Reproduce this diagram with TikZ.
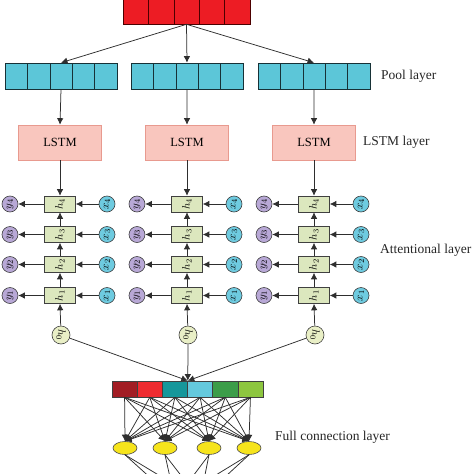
\documentclass[tikz,border=0pt]{standalone}
\usepackage{fontspec}
\usepackage{graphicx}
\setmainfont{Liberation Serif}
\usetikzlibrary{arrows.meta,shapes.geometric}
\definecolor{topred}{HTML}{ED1C24}
\definecolor{poolc}{HTML}{5CC6D8}
\definecolor{lstmf}{HTML}{F9C6BE}
\definecolor{lstmd}{HTML}{E89A8F}
\definecolor{hboxf}{HTML}{DCE7BE}
\definecolor{ycirc}{HTML}{B8A8D6}
\definecolor{xcirc}{HTML}{6ECBE0}
\definecolor{hzero}{HTML}{E9EFC6}
\definecolor{ellf}{HTML}{F6E41C}
\definecolor{lnc}{HTML}{2E2E2E}
\definecolor{bc1}{HTML}{A21D24}
\definecolor{bc2}{HTML}{EE2B30}
\definecolor{bc3}{HTML}{16979B}
\definecolor{bc4}{HTML}{64C9DD}
\definecolor{bc5}{HTML}{3C9D49}
\definecolor{bc6}{HTML}{8DC63F}
\begin{document}
\begin{tikzpicture}[x=1pt,y=-1pt,
  arr/.style={draw=lnc,line width=0.75pt,-{Latex[length=6.5pt,width=6.5pt]}},
  plain/.style={draw=lnc,line width=0.75pt},
  redcell/.style={draw=black!70!red,line width=0.6pt,fill=topred,minimum width=25.4pt,minimum height=32pt,inner sep=0pt},
  poolcell/.style={draw=black!75!poolc,line width=0.6pt,fill=poolc,minimum width=22.4pt,minimum height=26pt,inner sep=0pt},
  lstmbox/.style={draw=lstmd,line width=0.6pt,fill=lstmf,minimum width=83pt,minimum height=35pt,inner sep=0pt,font=\fontsize{12.5}{14}\selectfont},
  hbox/.style={draw=black!75,line width=0.6pt,fill=hboxf,minimum width=31pt,minimum height=16pt,inner sep=0pt,font=\fontsize{11}{12}\selectfont},
  ynode/.style={circle,draw=black!75,line width=0.6pt,fill=ycirc,minimum size=16pt,inner sep=0pt,font=\fontsize{11}{12}\selectfont},
  xnode/.style={circle,draw=black!75,line width=0.6pt,fill=xcirc,minimum size=16pt,inner sep=0pt,font=\fontsize{11}{12}\selectfont},
  h0node/.style={circle,draw=black!75,line width=0.6pt,fill=hzero,minimum size=18pt,inner sep=0pt,font=\fontsize{11}{12}\selectfont},
  bcell/.style={draw=black!75,line width=0.6pt,minimum width=25.17pt,minimum height=16pt,inner sep=0pt},
  ell/.style={ellipse,draw=black!70,line width=0.6pt,fill=ellf,minimum width=24pt,minimum height=13pt,inner sep=0pt},
  lbl/.style={anchor=west,inner sep=0pt,font=\fontsize{13.5}{16}\selectfont,text=black!85}]
\useasboundingbox (0,0) rectangle (474,474);
\clip (0,0) rectangle (474,474);
% top bar
\foreach \i in {0,...,4} \node[redcell] (t\i) at ({123+25.4*\i+12.7},8) {};
% pool bars
\foreach \c/\x in {L/5,M/131,R/258} {
  \foreach \i in {0,...,4} \node[poolcell] (p\c\i) at ({\x+22.4*\i+11.2},76) {};
  \draw[arr] (t2.south) -- (p\c2.north);
}
\node[lbl] (poollbl) at (381,76) {Pool layer};
% columns
\foreach \c/\cx in {L/60,M/187,R/314} {
  \node[lstmbox] (lstm\c) at (\cx,142.5) {LSTM};
  \draw[arr] (p\c2.south) -- (lstm\c.north);
  \foreach \i/\yy in {1/295.5,2/264.5,3/234.5,4/204} {
    \node[hbox] (h\c\i) at (\cx,\yy) {\rotatebox{90}{$h_{\i}$}};
    \node[ynode] (y\c\i) at ({\cx-50},\yy) {\rotatebox{90}{$y_{\i}$}};
    \node[xnode] (x\c\i) at ({\cx+47},\yy) {\rotatebox{90}{$x_{\i}$}};
    \draw[arr] (h\c\i) -- (y\c\i);
    \draw[arr] (x\c\i) -- (h\c\i);
  }
  \node[h0node] (h0\c) at ({\cx+1},335) {\rotatebox{-90}{$h_0$}};
  \draw[arr] (lstm\c.south) -- (h\c4.north);
  \draw[arr] (h\c3.north) -- (h\c4.south);
  \draw[arr] (h\c2.north) -- (h\c3.south);
  \draw[arr] (h\c1.north) -- (h\c2.south);
  \draw[arr] (h0\c) -- (h\c1.south);
}
\node[lbl] (lstmlbl) at (363,142.5) {LSTM layer};
\node[lbl] (attlbl) at (380,250) {Attentional layer};
% bottom bar
\foreach \i/\col in {1/bc1,2/bc2,3/bc3,4/bc4,5/bc5,6/bc6}
  \node[bcell,fill=\col] (b\i) at ({112+25.17*(\i-1)+12.585},389) {};
\foreach \c in {L,M,R} \draw[arr] (h0\c) -- (b3.north east);
% ellipses
\foreach \j/\ex in {1/125,2/165,3/209,4/249} \node[ell] (e\j) at (\ex,448) {};
\foreach \i in {1,...,6} \foreach \j in {1,...,4} \draw[arr] (b\i.south) -- (e\j.north);
\node[lbl] (fclbl) at (275,437) {Full connection layer};
% outputs below (cut off)
\coordinate (o1) at (175,500);
\coordinate (o2) at (200,500);
\foreach \j in {1,...,4} { \draw[plain] (e\j.south) -- (o1); \draw[plain] (e\j.south) -- (o2); }
\end{tikzpicture}
\end{document}
